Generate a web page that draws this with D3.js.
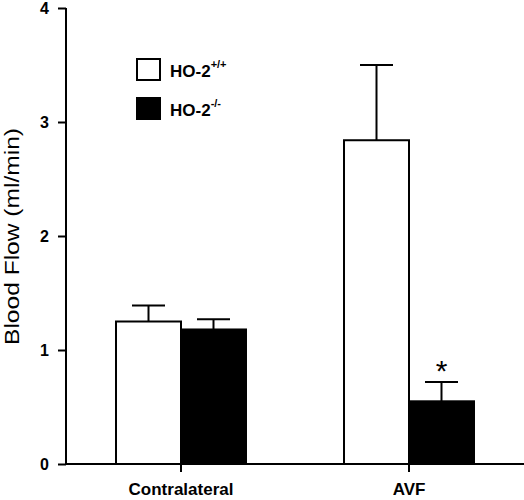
<!DOCTYPE html>
<html>
<head>
<meta charset="utf-8">
<script src="https://cdn.jsdelivr.net/npm/d3@7"></script>
<style>
body { margin: 0; background: #fff; }
svg { display: block; font-family: "Liberation Sans", Arial, sans-serif; }
</style>
</head>
<body>
<script>
var categories = ["Contralateral", "AVF"];
var series = ["HO-2+/+", "HO-2-/-"];
var wildMean = [1.25, 2.84];
var wildErr = [0.14, 0.66];
var knockMean = [1.18, 0.55];
var knockErr = [0.09, 0.17];
var yTicks = [0, 1, 2, 3, 4];

var data = [];
categories.forEach(function(c, i) {
	data.push({cat: c, s: series[0], v: wildMean[i], e: wildErr[i], fill: "#fff"});
	data.push({cat: c, s: series[1], v: knockMean[i], e: knockErr[i], fill: "#000"});
});

var svg = d3.select("body").append("svg")
	.attr("width", 524)
	.attr("height", 500);

var y = d3.scaleLinear().domain([0, 4]).range([464, 8]);
var x = d3.scaleBand().domain(categories).range([67, 523]);
var xs = d3.scaleBand().domain(series).range([0, x.bandwidth()]).paddingOuter(0.754);

// bars
svg.selectAll(".bar").data(data).enter()
	.append("rect")
	.attr("x", d => x(d.cat) + xs(d.s))
	.attr("y", d => y(d.v))
	.attr("width", xs.bandwidth())
	.attr("height", d => y(0) - y(d.v))
	.attr("fill", d => d.fill)
	.attr("stroke", "#000")
	.attr("stroke-width", 2);

// error bars
var eb = svg.selectAll(".err").data(data).enter().append("g");
eb.append("line")
	.attr("x1", d => x(d.cat) + xs(d.s) + xs.bandwidth() / 2)
	.attr("x2", d => x(d.cat) + xs(d.s) + xs.bandwidth() / 2)
	.attr("y1", d => y(d.v))
	.attr("y2", d => y(d.v + d.e))
	.attr("stroke", "#000")
	.attr("stroke-width", 2);
eb.append("line")
	.attr("x1", d => x(d.cat) + xs(d.s) + xs.bandwidth() / 2 - 16.5)
	.attr("x2", d => x(d.cat) + xs(d.s) + xs.bandwidth() / 2 + 16.5)
	.attr("y1", d => y(d.v + d.e))
	.attr("y2", d => y(d.v + d.e))
	.attr("stroke", "#000")
	.attr("stroke-width", 2);

// significance mark
var avfKo = data[3];
svg.append("text")
	.attr("x", x(avfKo.cat) + xs(avfKo.s) + xs.bandwidth() / 2)
	.attr("y", y(avfKo.v + avfKo.e))
	.attr("text-anchor", "middle")
	.attr("font-size", "30px")
	.attr("dy", "0.55em")
	.attr("transform", "translate(0,-17)")
	.text("*");

// y axis
var yAxis = svg.append("g")
	.attr("transform", "translate(66,0)")
	.call(d3.axisLeft(y).tickValues(yTicks).tickFormat(d3.format("d")).tickSize(8).tickPadding(9));
yAxis.select(".domain").attr("d", "M0," + y(4) + "V" + y(0)).attr("stroke-width", 2);
yAxis.selectAll(".tick line").attr("stroke-width", 2);
yAxis.selectAll(".tick text")
	.attr("font-size", "16px")
	.attr("font-weight", "bold")
	.attr("font-family", "Liberation Sans, Arial, sans-serif")
	.attr("fill", "#000");

// x axis
var xAxis = svg.append("g")
	.attr("transform", "translate(0," + y(0) + ")")
	.call(d3.axisBottom(x).tickSize(8).tickPadding(11));
xAxis.select(".domain").attr("d", "M66,0H524").attr("stroke-width", 2);
xAxis.selectAll(".tick line").attr("stroke-width", 2);
xAxis.selectAll(".tick text")
	.attr("font-size", "17px")
	.attr("font-weight", "bold")
	.attr("font-family", "Liberation Sans, Arial, sans-serif")
	.attr("fill", "#000");

// y title
svg.append("text")
	.attr("transform", "translate(19,236.5) rotate(-90)")
	.attr("text-anchor", "middle")
	.attr("font-size", "20px")
	.attr("textLength", 217)
	.attr("lengthAdjust", "spacingAndGlyphs")
	.text("Blood Flow (ml/min)");

// legend
var sups = ["+/+", "-/-"];
var leg = svg.selectAll(".leg").data(series).enter().append("g")
	.attr("transform", (d, i) => "translate(137," + (59 + i * 39) + ")");
leg.append("rect")
	.attr("width", 23)
	.attr("height", 21)
	.attr("fill", (d, i) => i === 0 ? "#fff" : "#000")
	.attr("stroke", "#000")
	.attr("stroke-width", 2);
var lt = leg.append("text")
	.attr("x", 33)
	.attr("y", 18)
	.attr("font-size", "17px")
	.attr("font-weight", "bold");
lt.append("tspan").text("HO-2");
lt.append("tspan")
	.attr("font-size", "11px")
	.attr("dy", "-9")
	.text((d, i) => sups[i]);
</script>
</body>
</html>
